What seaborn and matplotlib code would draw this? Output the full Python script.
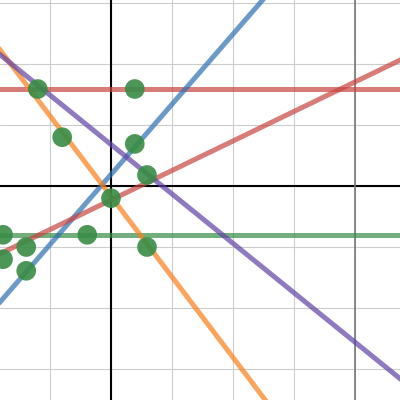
import matplotlib
matplotlib.use("Agg")
import matplotlib.pyplot as plt
import seaborn as sns
import numpy as np
import pandas as pd

pt_x = [-1.2, 0.39, -0.8, 0.39, 0.59, 0.0, -1.77, -0.39, -1.77, -1.39, -1.39, 0.59]
pt_y = [1.59, 1.59, 0.8, 0.69, 0.18, -0.2, -0.8, -0.8, -1.2, -1.0, -1.39, -1.0]
line_slopes = [0.0, 0.0, 1.15, 0.484, -1.32, -0.81]
line_inters = [1.59, -0.8, 0.19, -0.23, -0.17, 0.68]
line_colors = ["#c74440", "#388c46", "#2d70b3", "#c74440", "#fa7e19", "#6042a6"]

xmin, xmax = -111/61, 289/61
ymin, ymax = -214/61, 186/61

sns.set_style("white")
fig = plt.figure(figsize=(4, 4), dpi=100)
ax = fig.add_axes([0, 0, 1, 1])
for g in range(-1, 5):
    ax.axvline(g, color="#cccccc", lw=0.8, zorder=0)
for g in range(-3, 4):
    ax.axhline(g, color="#cccccc", lw=0.8, zorder=0)
ax.axvline(0, color="black", lw=1.5, zorder=1)
ax.axhline(0, color="black", lw=1.5, zorder=1)
ax.axvline(4, color="#777777", lw=1.2, zorder=1)

xs = np.linspace(xmin - 1, xmax + 1, 200)
for m, b, c in zip(line_slopes, line_inters, line_colors):
    sns.lineplot(x=xs, y=m * xs + b, color=c, lw=3.6, alpha=0.7, ax=ax, zorder=2)
sns.scatterplot(x=pt_x, y=pt_y, color="#388c46", s=200, edgecolor="none", alpha=0.9, ax=ax, zorder=3)

ax.set_xlim(xmin, xmax)
ax.set_ylim(ymin, ymax)
ax.set_xticks([]); ax.set_yticks([])
for s in ax.spines.values():
    s.set_visible(False)
fig.savefig("out.png", dpi=100)
